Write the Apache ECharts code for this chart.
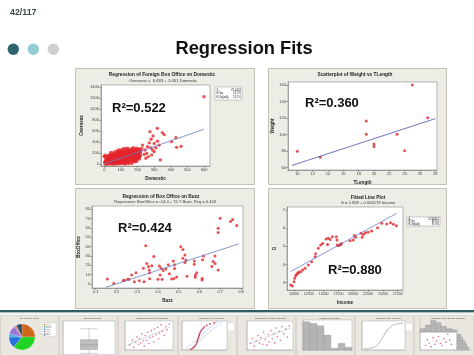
<!DOCTYPE html>
<html><head><meta charset="utf-8">
<script src="https://cdn.jsdelivr.net/npm/echarts@6/dist/echarts.min.js"></script>
<style>html,body{margin:0;padding:0;background:#fff}#c{width:474px;height:355px}</style>
</head><body><div id="c"></div>
<script>
// ---------- Panel 1: Foreign Box Office vs Domestic ----------
const p1Cluster = [
[5,10],[10,30],[15,5],[20,20],[25,40],[30,15],[35,30],[40,10],[45,45],[50,25],[55,5],[60,35],[65,20],[70,45],[75,10],[80,30],[85,50],[90,15],[95,40],[100,25],[105,55],[110,20],[115,45],[120,30],[125,60],[130,35],[140,50],[150,40],[160,70],[170,55],[180,65],
[8,60],[12,80],[18,55],[22,90],[28,70],[33,95],[38,60],[42,85],[48,70],[52,100],[58,65],[62,90],[68,75],[72,100],[78,85],[82,60],[88,95],[92,80],[98,100],[102,70],[108,95],[112,85],[118,75],[122,100],[128,90],[135,80],[145,95],[155,85],[165,100],[175,90],[185,100],[195,95],
[10,120],[20,110],[30,130],[40,115],[50,140],[55,120],[60,145],[65,110],[70,130],[80,140],[85,115],[90,135],[95,120],[100,145],[105,125],[110,140],[115,110],[120,150],[125,130],[130,115],[138,140],[142,125],[148,150],[152,120],[158,135],[162,145],[168,125],[172,150],[178,130],[188,140],[198,150],[205,120],
[5,160],[25,155],[35,175],[45,160],[55,185],[62,165],[70,190],[75,170],[82,195],[90,160],[96,180],[100,195],[106,170],[112,190],[118,165],[124,185],[130,200],[136,175],[144,190],[150,165],[156,195],[164,180],[170,160],[176,200],[182,175],[190,190],[200,170],[210,185],
[40,210],[60,220],[75,205],[85,230],[95,215],[105,240],[115,210],[125,230],[135,245],[140,215],[150,235],[160,210],[166,245],[174,225],[184,240],[192,215],[202,235],[215,210],
[110,260],[130,270],[150,255],[165,280],[180,265],[195,290],[205,260],[210,275],[0,140],
[15,65],[45,100],[65,160],[85,180],[100,220],[120,205],[135,160],[145,220],[155,250],[160,180],[170,230],[185,210],[190,260],[200,200],[210,230],[215,160],
[3,40],[18,140],[32,50],[52,170],[78,245],[92,260],[118,285],[140,290],[175,300],[198,120],[210,100],[185,50],[165,20],[145,15],[125,10],[195,60]
];
const p1Outliers = [
[600,1230],[319,655],[349,576],[275,594],[281,455],[293,515],[405,412],[431,485],[435,309],[462,327],[337,79],
[300,380],[320,420],[260,320],[245,260],[255,200],[265,140],[290,260],[310,300],[230,350],[240,180],[270,390],
[250,110],[285,170],[300,230],[360,540],[225,290],[280,300],[330,350],[215,140],[220,240]
];
const p1Fit = [[0,6.7],[600,637.3]];
const p1XTicks = [0,100,200,300,400,500,600];
const p1YTicks = [0,200,400,600,800,1000,1200,1400];

// ---------- Panel 2: Weight vs TLength ----------
const p2Points = [[10,80],[13,72.5],[19,116.5],[19,100.5],[20,88.5],[20,85.5],[23,100.5],[24,80.5],[25,160],[27,120.5]];
const p2Fit = [[9.3,62.7],[28,119.3]];
const p2XTicks = [10,12,14,16,18,20,22,24,26,28];
const p2YTicks = [60,80,100,120,140,160];

// ---------- Panel 3: BoxOffice vs Buzz ----------
const p3Points = [
[0.156,5.4],[0.187,0.6],[0.233,3.6],[0.238,4],[0.254,5],[0.26,5.2],[0.273,9.6],[0.294,12],[0.286,2.5],[0.31,3.5],
[0.33,16.8],[0.333,2.5],[0.341,41],[0.346,21.8],[0.354,18.6],[0.358,15],[0.36,12],[0.37,19.6],[0.38,29.3],[0.36,5.5],
[0.40,5],[0.407,19.3],[0.41,9.6],[0.415,16.8],[0.42,5],[0.425,14.5],[0.438,16],[0.45,20.7],[0.455,11],[0.466,5.4],
[0.477,6],[0.474,24.6],[0.48,20.7],[0.48,16.5],[0.49,7.5],[0.51,40],[0.52,36.8],[0.52,27.5],[0.53,23],[0.53,31],
[0.535,25.5],[0.54,8.2],[0.575,24.6],[0.575,21],[0.58,9.6],[0.58,7.2],[0.587,12],[0.613,6],[0.613,4.3],[0.615,26],
[0.62,30],[0.66,18.6],[0.666,24],[0.675,30],[0.675,21.8],[0.69,15],[0.69,55],[0.69,59.6],[0.7,70.4],[0.75,66.8],
[0.76,69],[0.78,62.5]
];
const p3Fit = [[0.15,-3.5],[0.79,43]];
const p3XTicks = [0.1,0.2,0.3,0.4,0.5,0.6,0.7,0.8];
const p3YTicks = [0,10,20,30,40,50,60,70,80];

// ---------- Panel 4: G vs Income ----------
const p4Points = [
[9437,2.87],[9719,2.82],[10000,3.05],[10112,3.24],[10280,3.39],[10450,3.46],[10620,3.52],[10790,3.58],[11125,3.6],[11460,3.7],
[11860,3.8],[12420,3.97],[12980,4.15],[13545,4.43],[13655,4.6],[14110,4.89],[14500,5.07],[14840,5.16],[15400,5.4],[15800,5.44],
[15665,5.1],[16100,5.38],[16470,5.53],[17140,5.53],[17250,5.35],[17310,5.07],[17500,5.05],[17700,5.08],[17900,5.1],[18000,5.16],
[19450,5.31],[20000,5.35],[20190,5.6],[20400,5.5],[21300,5.72],[21500,5.5],[21700,5.65],[22040,5.75],[22500,5.77],[23100,5.85],
[24100,6.03],[24800,6.27],[25640,6.23],[26300,6.3],[26770,6.21],[27280,6.14]
];
const p4Fit = [[9400,3.61],[27300,6.81]];
const p4XTicks = [10000,12500,15000,17500,20000,22500,25000,27500];
const p4YTicks = [3,4,5,6,7];

// ---------- Thumbnails ----------
const pieNames = ['Action','Comedy','Drama','Family','Horror','Other','Thriller'];
const pieValues = [25,36,14,4,11,3,7];
const pieColors = ['#d0661a','#22d422','#2a6fe0','#40b0d8','#9a74d8','#e08080','#234f6a'];
const boxData = [[5,16,30,45,77]];
const t3Points = [[10,15],[15,30],[18,8],[22,25],[25,40],[28,18],[30,35],[33,22],[35,50],[38,28],[40,12],[42,45],[45,30],[48,55],[50,20],[52,38],[55,60],[58,42],[60,25],[62,65],[65,48],[68,70],[70,35],[72,52],[75,78],[78,58],[82,45],[85,72],[88,62],[92,80]];
const t3Fit = [[5,15],[95,72]];
const t4Points = [[20,3],[24,6],[27,10],[29,14],[31,19],[33,25],[34,30],[35,35],[36,40],[37,45],[38,50],[39,55],[40,60],[42,65],[44,70],[47,75],[50,80],[55,85],[62,90],[72,94]];
const t4Fit = [[5,0],[80,100]];
const t4Lo = [[15,0],[90,100]];
const t5Points = [[8,20],[12,35],[16,12],[20,28],[24,45],[27,22],[30,38],[34,18],[36,55],[40,32],[43,15],[46,48],[48,25],[52,60],[55,35],[58,50],[60,22],[63,68],[66,42],[70,58],[73,30],[76,72],[80,50],[84,65],[88,40],[92,75]];
const t5Fit = [[5,20],[95,68]];
const histValues = [85,80,73,45,5,20,8];
const cdfX = [0,1,2,3,4,5,6,7,8,9,10];
const cdfY = [0,0.01,0.04,0.1,0.25,0.5,0.74,0.9,0.97,0.99,1];
const t8Points = [[15,20],[20,45],[25,30],[30,15],[35,55],[40,25],[45,40],[50,60],[55,30],[60,20],[65,50],[70,35],[75,70],[80,45],[85,25]];
const t8Top = [3,6,10,8,5,3,2];
const t8Right = [6,5,4,3,2];

const FF = 'Liberation Sans, Arial, sans-serif';
const RED = '#e3242b';
const LINEC = '#6d7fc4';

const grids = [], xAxes = [], yAxes = [], series = [];

function addMain(box, xr, yr, xt, yt, xn, yn, yGap, xFont) {
  const gi = grids.length;
  grids.push({left:box[0], top:box[1], width:box[2], height:box[3], show:true, backgroundColor:'#fff', borderColor:'#8a8a8a', borderWidth:0.6});
  const lab = {fontSize:4, color:'#444', margin:2, fontFamily:FF, formatter:v=>String(v)};
  const line = {show:true, onZero:false, lineStyle:{color:'#777', width:0.6}};
  const nts = {fontSize:4.6, fontWeight:'bold', color:'#222', fontFamily:FF};
  xAxes.push({gridIndex:gi, type:'value', min:xr[0], max:xr[1], axisLine:line,
    axisTick:{show:true, length:1.8, customValues:xt, lineStyle:{color:'#666', width:0.6}},
    axisLabel:Object.assign({customValues:xt}, lab, {fontSize:xFont||4}), splitLine:{show:false},
    name:xn, nameLocation:'middle', nameGap:10, nameTextStyle:nts});
  yAxes.push({gridIndex:gi, type:'value', min:yr[0], max:yr[1], axisLine:line,
    axisTick:{show:true, length:1.8, customValues:yt, lineStyle:{color:'#666', width:0.6}},
    axisLabel:Object.assign({customValues:yt}, lab), splitLine:{show:false},
    name:yn, nameLocation:'middle', nameRotate:90, nameGap:yGap, nameTextStyle:nts});
  return gi;
}
function addScatter(gi, data, size) {
  series.push({type:'scatter', xAxisIndex:gi, yAxisIndex:gi, data:data, symbolSize:size, itemStyle:{color:RED}, silent:true, z:3});
}
function addLine(gi, data, color, width, smooth) {
  series.push({type:'line', xAxisIndex:gi, yAxisIndex:gi, data:data, symbol:'none', smooth:!!smooth, lineStyle:{color:color, width:width}, silent:true, z:4});
}
function addThumbGrid(box, xr, yr, opts) {
  opts = opts || {};
  const gi = grids.length;
  grids.push({left:box[0], top:box[1], width:box[2], height:box[3], show:true, backgroundColor:opts.bg || '#fff', borderColor:'#999', borderWidth:0.4});
  xAxes.push({gridIndex:gi, type:opts.xCat ? 'category' : 'value', data:opts.xCat, min:opts.xCat ? undefined : xr[0], max:opts.xCat ? undefined : xr[1],
    axisLine:{show:true, onZero:false, lineStyle:{color:'#999', width:0.4}}, axisTick:{show:false}, axisLabel:{show:false}, splitLine:{show:false}});
  yAxes.push({gridIndex:gi, type:opts.yCat ? 'category' : 'value', data:opts.yCat, min:opts.yCat ? undefined : yr[0], max:opts.yCat ? undefined : yr[1],
    axisLine:{show:true, onZero:false, lineStyle:{color:'#999', width:0.4}}, axisTick:{show:false}, axisLabel:{show:false}, splitLine:{show:false}});
  return gi;
}

// main panels
const g1 = addMain([101,85,109,81], [-20,636], [-31,1442], p1XTicks, p1YTicks, 'Domestic', 'Overseas', 17);
addScatter(g1, p1Cluster, 3.8); addScatter(g1, p1Outliers, 3.3); addLine(g1, p1Fit, LINEC, 0.8);
const g2 = addMain([288,82,149,88], [8.78,28.22], [57.2,163.6], p2XTicks, p2YTicks, 'TLength', 'Weight', 11);
addScatter(g2, p2Points, 3); addLine(g2, p2Fit, '#4a4fb0', 0.8);
const g3 = addMain([92,206,151,82], [0.082,0.81], [-4.3,83.5], p3XTicks, p3YTicks, 'Buzz', 'BoxOffice', 8);
addScatter(g3, p3Points, 3); addLine(g3, p3Fit, LINEC, 0.8);
const g4 = addMain([287,207,116,83], [8818,28397], [2.6,7.165], p4XTicks, p4YTicks, 'Income', 'G', 10, 3.6);
addScatter(g4, p4Points, 3); addLine(g4, p4Fit, LINEC, 0.8);

// thumbnails
const tb2 = addThumbGrid([63,321,52,40], null, [0,100], {xCat:['Gross']});
series.push({type:'boxplot', xAxisIndex:tb2, yAxisIndex:tb2, data:boxData, boxWidth:[17,17], itemStyle:{color:'#bdbdbd', borderColor:'#888', borderWidth:0.4}, silent:true});
const tb3 = addThumbGrid([125,321,48,29], [0,100], [0,90]);
series.push({type:'scatter', xAxisIndex:tb3, yAxisIndex:tb3, data:t3Points, symbolSize:1.6, itemStyle:{color:'#d0506a'}, silent:true});
addLine(tb3, t3Fit, '#8899cc', 0.4);
const tb4 = addThumbGrid([182,321,45,29], [0,100], [0,100]);
addLine(tb4, t4Fit, '#8899dd', 0.4); addLine(tb4, t4Lo, '#8899dd', 0.4);
series.push({type:'scatter', xAxisIndex:tb4, yAxisIndex:tb4, data:t4Points, symbolSize:1.8, itemStyle:{color:'#c02030'}, silent:true});
const tb5 = addThumbGrid([247,321,46,29], [0,100], [0,90]);
series.push({type:'scatter', xAxisIndex:tb5, yAxisIndex:tb5, data:t5Points, symbolSize:1.6, itemStyle:{color:'#d0506a'}, silent:true});
addLine(tb5, t5Fit, '#8899cc', 0.4);
const tb6 = addThumbGrid([303,320,49,30], null, [0,90], {xCat:['a','b','c','d','e','f','g']});
series.push({type:'bar', xAxisIndex:tb6, yAxisIndex:tb6, data:histValues, barCategoryGap:'0%', itemStyle:{color:'#b5b5b5', borderColor:'#777', borderWidth:0.3}, silent:true});
const tb7 = addThumbGrid([362,321,43,29], [-0.5,10.5], [-0.05,1.1]);
addLine(tb7, cdfX.map((x,i)=>[x,cdfY[i]]), '#b0b0b0', 0.9, true);
const tb8 = addThumbGrid([420,332,37,18], [0,100], [0,80]);
series.push({type:'scatter', xAxisIndex:tb8, yAxisIndex:tb8, data:t8Points, symbolSize:1.6, itemStyle:{color:'#d0506a'}, silent:true});
const tb8t = addThumbGrid([420,319,37,13], null, [0,11], {xCat:['1','2','3','4','5','6','7'], bg:'rgba(0,0,0,0)'});
series.push({type:'bar', xAxisIndex:tb8t, yAxisIndex:tb8t, data:t8Top, barCategoryGap:'0%', itemStyle:{color:'#b5b5b5', borderColor:'#888', borderWidth:0.3}, silent:true});
const tb8r = addThumbGrid([457,334,14,16], [0,7], null, {yCat:['1','2','3','4','5'], bg:'rgba(0,0,0,0)'});
series.push({type:'bar', xAxisIndex:tb8r, yAxisIndex:tb8r, data:t8Right, barCategoryGap:'0%', itemStyle:{color:'#b5b5b5', borderColor:'#888', borderWidth:0.3}, silent:true});
grids[tb8t].borderWidth = 0; grids[tb8r].borderWidth = 0;

series.push({type:'pie', center:[22,337], radius:13, startAngle:90, data:pieNames.map((n,i)=>({name:n, value:pieValues[i], itemStyle:{color:pieColors[i]}})), label:{show:false}, labelLine:{show:false}, itemStyle:{borderColor:'#fff', borderWidth:0.2}, silent:true, animation:false});

// ---------- graphics ----------
const G = [];
function rect(x,y,w,h,fill,stroke,lw,z){ G.push({type:'rect', shape:{x:x,y:y,width:w,height:h}, style:{fill:fill, stroke:stroke||null, lineWidth:lw||0}, z:z===undefined?-10:z, silent:true}); }
function text(x,y,t,size,opts){ opts=opts||{}; G.push({type:'text', x:x, y:y, style:{text:t, font:(opts.bold?'bold ':'')+size+'px '+FF, fill:opts.color||'#222', textAlign:opts.align||'left', textVerticalAlign:'middle'}, z:50, silent:true}); }
function circle(cx,cy,r,fill){ G.push({type:'circle', shape:{cx:cx,cy:cy,r:r}, style:{fill:fill}, z:50, silent:true}); }

// header
text(10,13,'42/117',8.8,{bold:true,color:'#3c4a4c'});
circle(13.3,49.3,5.7,'#2e6470'); circle(33.3,49.3,5.7,'#92cdd3'); circle(53.3,49.3,5.7,'#cfcfcf');
text(244,48.5,'Regression Fits',18.3,{bold:true,align:'center',color:'#111'});

// panels
const panels = [[75,68,179,116],[268,68,178,116],[75,188,179,120],[268,188,178,120]];
panels.forEach(p=>rect(p[0]+0.5,p[1]+0.5,p[2],p[3],'#edece5','#b5b3a8',0.8));

text(162,75,'Regression of Foreign Box Office on Domestic',4.8,{bold:true,align:'center'});
text(163,80.5,'Overseas =  6.693 + 1.051 Domestic',4.2,{align:'center',color:'#333'});
text(355,75,'Scatterplot of Weight vs TLength',4.8,{bold:true,align:'center'});
text(161,196.5,'Regression of Box Office on Buzz',4.8,{bold:true,align:'center'});
text(165,201.5,'Regression: BoxOffice = -14.4 + 72.7 Buzz, Rsq = 0.424',4.1,{align:'center',color:'#333'});
text(368,197.5,'Fitted Line Plot',4.8,{bold:true,align:'center'});
text(368,202.5,'G = 1.928 + 0.000179 Income',4.1,{align:'center',color:'#333'});

// R^2 labels
text(112,108,'R²=0.522',13,{bold:true,color:'#111'});
text(305,103,'R²=0.360',13,{bold:true,color:'#111'});
text(118,228,'R²=0.424',13,{bold:true,color:'#111'});
text(328,270,'R²=0.880',13,{bold:true,color:'#111'});

// stat boxes
rect(215,87,27,13,'#fff','#999',0.5,20);
text(216.5,90,'S',2.8); text(216.5,93.5,'R-Sq',2.8); text(216.5,97,'R-Sq(adj)',2.8);
text(241,90,'75.0441',2.8,{align:'right'}); text(241,93.5,'52.2%',2.8,{align:'right'}); text(241,97,'52.1%',2.8,{align:'right'});
rect(407,217,33,9,'#fff','#999',0.5,20);
text(408.5,219.2,'S',2.6); text(408.5,221.6,'R-Sq',2.6); text(408.5,224,'R-Sq(adj)',2.6);
text(439,219.2,'0.276371',2.6,{align:'right'}); text(439,221.6,'88.0%',2.6,{align:'right'}); text(439,224,'87.8%',2.6,{align:'right'});

// separator
rect(0,310,474,2.6,'#2e5d63',null,0,-10);
rect(0,312.6,474,1,'#cfd8d8',null,0,-10);

// thumbnails
const thumbX = [0,59,118,178,237,296,355,414];
const thumbTitles = ['Pie Chart of Genre','Boxplot of Gross','Scatterplot of Gross vs Budget','Probability Plot of Gross','Scatterplot of Gross vs Budget','Histogram of Gross','Empirical CDF of Gross','Marginal Plot of Gross vs Budget'];
thumbX.forEach((x,i)=>{
  const w = (i<7 ? thumbX[i+1] : 474) - x;
  rect(x+0.5,315.5,w-1,42,'#e9e7df','#c4c2b8',0.6);
  text(x+w/2+(i===0?0:4),318,thumbTitles[i],2.3,{align:'center',color:'#444'});
});
rect(43,323,13,13,'#fff','#bbb',0.3,20);
pieNames.forEach((n,i)=>{ rect(44,324+i*1.7,1.3,1.2,pieColors[i],null,0,21); text(46,324.6+i*1.7,n,1.5,{color:'#666'}); });
rect(227.5,323,7,8,'#fff','#bbb',0.3,20);
rect(405.5,323,7,8,'#fff','#bbb',0.3,20);

const chart = echarts.init(document.getElementById('c'), null, {renderer:'canvas'});
chart.setOption({
  animation:false,
  backgroundColor:'#fff',
  textStyle:{fontFamily:FF},
  grid:grids, xAxis:xAxes, yAxis:yAxes, series:series,
  graphic:{elements:G}
});
</script>
</body></html>
